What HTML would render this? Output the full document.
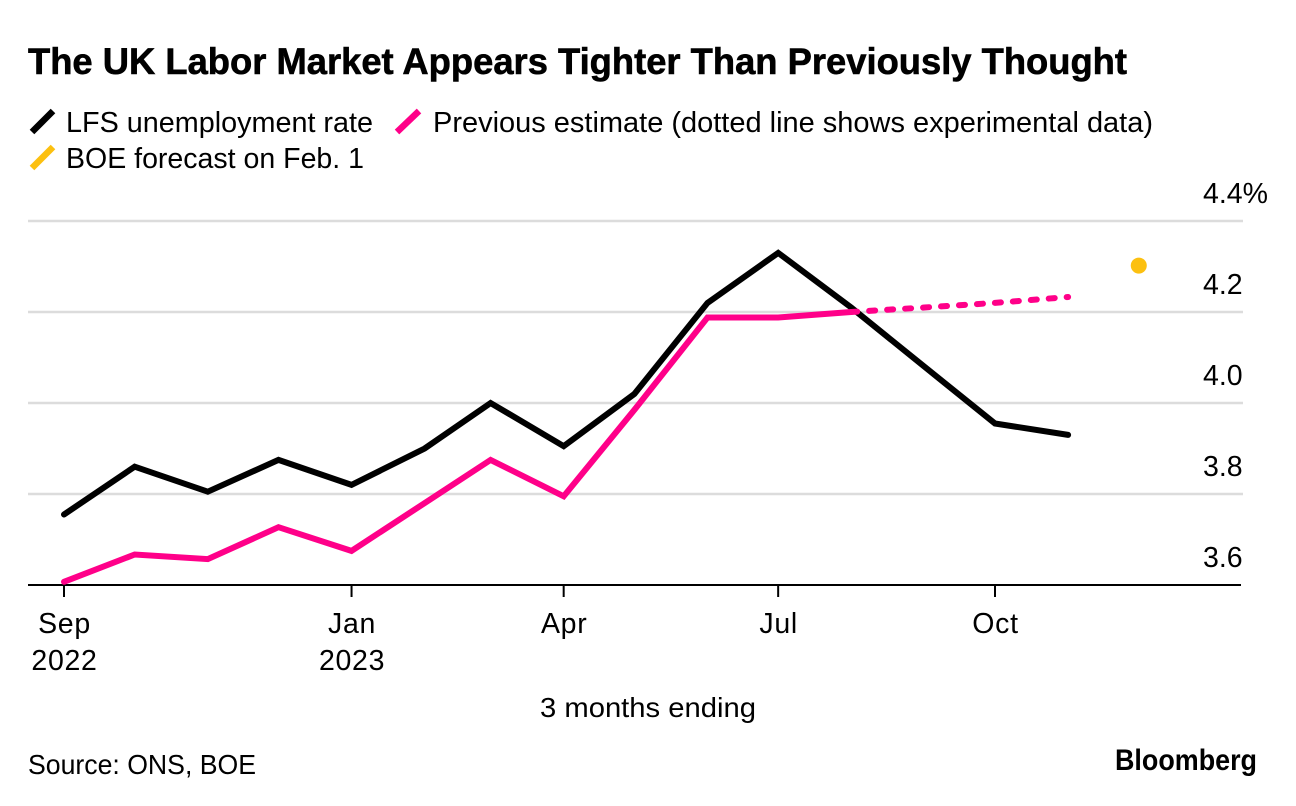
<!DOCTYPE html>
<html lang="en">
<head>
<meta charset="utf-8">
<title>The UK Labor Market Appears Tighter Than Previously Thought</title>
<style>
html,body{margin:0;padding:0;background:#fff;}
body{width:1296px;height:806px;overflow:hidden;}
svg{display:block;font-family:"Liberation Sans",Arial,sans-serif;fill:#000;}
.leg{font-size:28.5px;}
.tick{font-size:28.5px;letter-spacing:0.7px;}
.ytick{font-size:28.5px;}
</style>
</head>
<body>
<svg id="chart" width="1296" height="806" viewBox="0 0 1296 806" xmlns="http://www.w3.org/2000/svg">
  <text x="28" y="74" font-size="37.5" font-weight="700" stroke="#000" stroke-width="0.6" textLength="1099" lengthAdjust="spacingAndGlyphs">The UK Labor Market Appears Tighter Than Previously Thought</text>

  <g>
    <g>
      <line x1="32" y1="132" x2="53" y2="111" stroke="#000" stroke-width="6.5"/>
      <text class="leg" x="66" y="132" textLength="307" lengthAdjust="spacingAndGlyphs">LFS unemployment rate</text>
    </g>
    <g>
      <line x1="397" y1="132" x2="419" y2="111" stroke="#ff0089" stroke-width="6.5"/>
      <text class="leg" x="433" y="132" textLength="720" lengthAdjust="spacingAndGlyphs">Previous estimate (dotted line shows experimental data)</text>
    </g>
    <g>
      <line x1="32" y1="168" x2="53" y2="147" stroke="#fcc010" stroke-width="6.5"/>
      <text class="leg" x="66" y="168" textLength="298" lengthAdjust="spacingAndGlyphs">BOE forecast on Feb. 1</text>
    </g>
  </g>

  <g id="grid"></g>
  <g id="yticks"></g>
  <g id="xaxis"></g>
  <g id="series"></g>

  <text x="648" y="717" font-size="28" text-anchor="middle" textLength="216" lengthAdjust="spacingAndGlyphs">3 months ending</text>
  <text x="28" y="774" font-size="28" textLength="228" lengthAdjust="spacingAndGlyphs">Source: ONS, BOE</text>
  <text x="1115" y="770" font-size="30" font-weight="700" textLength="142" lengthAdjust="spacingAndGlyphs">Bloomberg</text>
</svg>

<script>
const months = ['2022-09','2022-10','2022-11','2022-12','2023-01','2023-02','2023-03','2023-04','2023-05','2023-06','2023-07','2023-08','2023-09','2023-10','2023-11'];
const lfsValues = [3.755,3.86,3.805,3.875,3.82,3.90,4.00,3.905,4.02,4.22,4.33,4.21,4.08,3.955,3.93];
const previousMonths = ['2022-09','2022-10','2022-11','2022-12','2023-01','2023-02','2023-03','2023-04','2023-05','2023-06','2023-07','2023-08'];
const previousValues = [3.607,3.667,3.657,3.727,3.675,3.78,3.875,3.795,3.985,4.188,4.188,4.20];
const experimentalMonths = ['2023-08','2023-09','2023-10','2023-11'];
const experimentalValues = [4.20,4.21,4.22,4.233];
const forecastMonth = '2023-12';
const forecastValue = 4.302;
const yTicks = [3.6,3.8,4.0,4.2,4.4];
const yTickLabels = ['3.6','3.8','4.0','4.2','4.4%'];
const xTickMonths = ['2022-09','2023-01','2023-04','2023-07','2023-10'];
const xTickLabels = ['Sep','Jan','Apr','Jul','Oct'];
const xTickYears = ['2022','2023','','',''];

const SVGNS = 'http://www.w3.org/2000/svg';
function ms(m){ const p = m.split('-'); return Date.UTC(+p[0], +p[1]-1, 1); }
const x0 = ms('2022-09'), x1 = ms('2023-10');
function xScale(m){ return 64 + (ms(m)-x0)/(x1-x0)*(995-64); }
function yScale(v){ return 585 - (v-3.6)/(4.4-3.6)*(585-221); }
function mk(tag, parent, attrs){
  const e = document.createElementNS(SVGNS, tag);
  for (const k in attrs) e.setAttribute(k, attrs[k]);
  parent.appendChild(e);
  return e;
}
function pts(ms_, vs){ return ms_.map((m,i)=>xScale(m).toFixed(1)+','+yScale(vs[i]).toFixed(1)).join(' '); }

const grid = document.getElementById('grid');
const yt = document.getElementById('yticks');
yTicks.forEach((v,i)=>{
  if (v > 3.6) {
    const l = mk('line', grid, {x1:28, x2:1243, y1:yScale(v), y2:yScale(v), stroke:'#dcdcdc', 'stroke-width':2.5});
    
    
  }
  const t = mk('text', yt, {x:1203, y:yScale(v)-18, class:'ytick'});
  t.textContent = yTickLabels[i];
  
  
});

const xa = document.getElementById('xaxis');
const axisLine = mk('line', xa, {x1:28, x2:1241, y1:585, y2:585, stroke:'#000', 'stroke-width':2});


xTickMonths.forEach((m,i)=>{
  const x = xScale(m);
  const tk = mk('line', xa, {x1:x, x2:x, y1:585, y2:597, stroke:'#000', 'stroke-width':2});
  
  
  const t = mk('text', xa, {x:x+0.5, y:633, class:'tick', 'text-anchor':'middle'});
  t.textContent = xTickLabels[i];
  
  
  if (xTickYears[i]) {
    const y = mk('text', xa, {x:x+0.5, y:670, class:'tick', 'text-anchor':'middle'});
    y.textContent = xTickYears[i];
    
    
  }
});

const s = document.getElementById('series');
const lfs = mk('polyline', s, {points:pts(months, lfsValues), fill:'none', stroke:'#000', 'stroke-width':6, 'stroke-linejoin':'miter', 'stroke-linecap':'round'});


const prev = mk('polyline', s, {points:pts(previousMonths, previousValues), fill:'none', stroke:'#ff0089', 'stroke-width':6, 'stroke-linejoin':'miter', 'stroke-linecap':'round'});


const exp = mk('polyline', s, {points:pts(experimentalMonths, experimentalValues), fill:'none', stroke:'#ff0089', 'stroke-width':6, 'stroke-linecap':'round', 'stroke-dasharray':'6 12'});


const dot = mk('circle', s, {cx:xScale(forecastMonth), cy:yScale(forecastValue), r:8, fill:'#fcc010'});


</script>
</body>
</html>
